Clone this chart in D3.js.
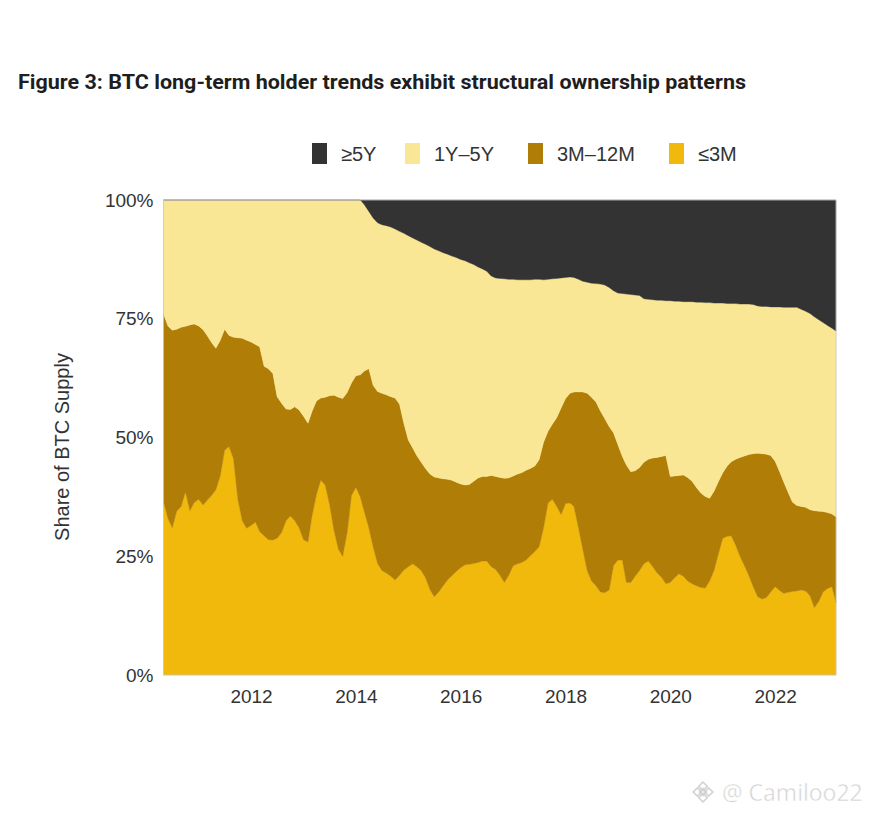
<!DOCTYPE html>
<html>
<head>
<meta charset="utf-8">
<script src="https://cdn.jsdelivr.net/npm/d3@7"></script>
<style>
  body { margin: 0; background: #fff; }
  svg { display: block; }
</style>
</head>
<body>
<svg id="chart" width="875" height="815"></svg>
<script>
// monthly readings, cumulative share of BTC supply (%) held for at most the given age
// first point is May 2010, one value per month up to Mar 2023
const firstMonth = new Date(2010, 4, 1);

const upTo3M = [
  36.5, 33.0, 31.0, 34.5, 35.5, 38.6, 34.6, 36.3, // 2010
  37.0, 35.8, 36.8, 37.8, 39.0, 42.0, 47.3, 48.1, 45.5, 37.0, 32.5, 30.9, // 2011
  31.5, 32.2, 30.2, 29.3, 28.5, 28.4, 28.8, 30.0, 32.5, 33.5, 32.5, 31.0, // 2012
  28.5, 28.0, 33.5, 38.0, 41.0, 40.0, 36.0, 30.5, 26.5, 25.0, 30.0, 37.8, // 2013
  39.5, 37.5, 34.3, 31.0, 27.0, 23.5, 22.0, 21.5, 20.8, 20.0, 21.0, 22.1, // 2014
  22.8, 23.4, 22.8, 22.0, 20.5, 18.0, 16.5, 17.5, 18.8, 20.0, 20.9, 21.8, // 2015
  22.6, 23.2, 23.3, 23.5, 23.7, 24.0, 24.0, 22.8, 22.2, 21.0, 19.5, 21.0, // 2016
  23.0, 23.4, 23.7, 24.2, 25.1, 26.0, 27.0, 31.0, 36.2, 37.0, 35.5, 33.8, // 2017
  36.1, 36.2, 35.5, 31.0, 26.5, 22.0, 19.8, 18.8, 17.5, 17.3, 17.9, 23.0, // 2018
  24.2, 24.2, 19.5, 19.5, 20.8, 22.0, 23.4, 24.0, 22.8, 21.5, 20.6, 19.2, // 2019
  19.5, 20.5, 21.3, 20.8, 19.8, 19.2, 18.8, 18.4, 18.3, 19.8, 22.0, 25.5, // 2020
  28.8, 29.2, 29.3, 27.3, 25.0, 23.0, 21.0, 18.6, 16.5, 16.0, 16.3, 17.5, // 2021
  18.6, 17.8, 17.2, 17.4, 17.6, 17.7, 17.9, 17.7, 16.7, 14.2, 15.5, 17.5, // 2022
  18.2, 18.6, 15.2 // 2023
];

const upTo1Y = [
  76.0, 73.5, 72.6, 72.8, 73.2, 73.4, 73.7, 73.9, // 2010
  73.5, 72.7, 71.5, 70.0, 68.8, 70.5, 72.8, 71.5, 71.1, 71.0, 70.9, 70.5, // 2011
  70.1, 69.6, 69.1, 65.0, 64.5, 63.5, 58.6, 57.2, 56.0, 55.9, 56.5, 55.8, // 2012
  54.5, 53.0, 55.5, 57.7, 58.3, 58.5, 58.8, 58.9, 58.5, 58.2, 59.5, 61.5, // 2013
  63.0, 63.2, 64.0, 64.5, 61.0, 59.7, 59.3, 59.0, 58.6, 58.3, 57.0, 53.0, // 2014
  49.5, 47.8, 46.2, 44.8, 43.5, 42.3, 41.7, 41.5, 41.3, 41.2, 41.0, 40.6, // 2015
  40.2, 40.0, 40.1, 40.8, 41.5, 41.8, 41.8, 42.0, 41.8, 41.6, 41.4, 41.5, // 2016
  41.9, 42.3, 42.6, 43.1, 43.5, 44.0, 45.3, 49.0, 51.3, 52.8, 54.2, 56.2, // 2017
  58.2, 59.3, 59.6, 59.6, 59.6, 59.3, 58.5, 57.5, 55.6, 54.0, 52.3, 51.0, // 2018
  48.5, 46.0, 44.2, 42.8, 43.0, 43.7, 44.8, 45.4, 45.7, 45.8, 46.0, 46.2, // 2019
  41.8, 41.9, 42.0, 42.1, 41.6, 40.8, 39.5, 38.3, 37.6, 37.2, 38.7, 40.7, // 2020
  42.6, 44.0, 44.9, 45.4, 45.8, 46.1, 46.4, 46.6, 46.7, 46.6, 46.5, 46.2, // 2021
  45.0, 42.8, 40.7, 38.5, 36.4, 35.7, 35.5, 35.3, 34.8, 34.6, 34.5, 34.4, // 2022
  34.2, 33.9, 33.3 // 2023
];

const upTo5Y = [
  100, 100, 100, 100, 100, 100, 100, 100, // 2010
  100, 100, 100, 100, 100, 100, 100, 100, 100, 100, 100, 100, // 2011
  100, 100, 100, 100, 100, 100, 100, 100, 100, 100, 100, 100, // 2012
  100, 100, 100, 100, 100, 100, 100, 100, 100, 100, 100, 100, // 2013
  100, 100, 99.0, 97.6, 96.2, 95.2, 94.8, 94.6, 94.3, 93.9, 93.4, 93.0, // 2014
  92.5, 92.0, 91.6, 91.1, 90.7, 90.2, 89.7, 89.3, 88.9, 88.6, 88.2, 87.9, // 2015
  87.5, 87.2, 86.8, 86.4, 85.9, 85.5, 85.0, 84.0, 83.6, 83.5, 83.4, 83.3, // 2016
  83.3, 83.2, 83.2, 83.2, 83.2, 83.3, 83.3, 83.2, 83.3, 83.4, 83.5, 83.6, // 2017
  83.7, 83.8, 83.7, 83.3, 82.9, 82.7, 82.5, 82.4, 82.3, 82.1, 81.6, 80.9, // 2018
  80.4, 80.3, 80.2, 80.1, 80.0, 79.9, 79.2, 79.1, 79.0, 78.9, 78.9, 78.8, // 2019
  78.8, 78.7, 78.7, 78.6, 78.6, 78.6, 78.5, 78.5, 78.4, 78.4, 78.3, 78.3, // 2020
  78.3, 78.2, 78.2, 78.2, 78.1, 78.1, 78.1, 78.0, 77.7, 77.6, 77.6, 77.5, // 2021
  77.5, 77.5, 77.4, 77.4, 77.4, 77.4, 77.0, 76.6, 76.1, 75.4, 74.8, 74.2, // 2022
  73.6, 73.0, 72.4 // 2023
];

const seriesKeys = ["le3m", "m3to12", "y1to5", "ge5y"];
const seriesNames = { ge5y: "≥5Y", y1to5: "1Y–5Y", m3to12: "3M–12M", le3m: "≤3M" };
const legendOrder = ["ge5y", "y1to5", "m3to12", "le3m"];
const colors = { ge5y: "#333333", y1to5: "#fae796", m3to12: "#b07d06", le3m: "#f0b90b" };
const xTickYears = [2012, 2014, 2016, 2018, 2020, 2022];
const yTicks = [0, 0.25, 0.5, 0.75, 1];

// per month shares of each age band (in %)
const rows = upTo3M.map((v, i) => ({
  date: d3.timeMonth.offset(firstMonth, i),
  le3m: v,
  m3to12: upTo1Y[i] - v,
  y1to5: upTo5Y[i] - upTo1Y[i],
  ge5y: 100 - upTo5Y[i]
}));

const margin = { left: 163.5, top: 200 };
const width = 672.5, height = 475;
const tickFont = "'Liberation Sans', Arial, sans-serif";

const svgEl = d3.select("#chart");

// title
svgEl.append("text")
  .attr("x", 18)
  .attr("y", 89)
  .attr("textLength", 728)
  .attr("lengthAdjust", "spacingAndGlyphs")
  .attr("font-family", "Roboto, 'Liberation Sans', sans-serif")
  .attr("font-weight", 700)
  .attr("font-size", 20)
  .attr("fill", "#1e1e1e")
  .text("Figure 3: BTC long-term holder trends exhibit structural ownership patterns");

// legend
const legendX = { ge5y: 312, y1to5: 405, m3to12: 528, le3m: 669 };
const legend = svgEl.append("g");
legendOrder.forEach(k => {
  legend.append("rect")
    .attr("x", legendX[k]).attr("y", 143)
    .attr("width", 15).attr("height", 21)
    .attr("fill", colors[k]);
  legend.append("text")
    .attr("x", legendX[k] + 29).attr("y", 154)
    .attr("dy", "0.35em")
    .attr("font-family", tickFont)
    .attr("font-size", 20)
    .attr("fill", "#333")
    .text(seriesNames[k]);
});

const svg = svgEl.append("g")
  .attr("transform", `translate(${margin.left},${margin.top})`);

const xScale = d3.scaleTime()
  .domain(d3.extent(rows, d => d.date))
  .range([0, width]);
const yScale = d3.scaleLinear()
  .domain([0, 100])
  .range([height, 0]);

const stack = d3.stack().keys(seriesKeys);
const layers = stack(rows);

const area = d3.area()
  .x(d => xScale(d.data.date))
  .y0(d => yScale(d[0]))
  .y1(d => yScale(d[1]));

svg.selectAll(".layer")
  .data(layers)
  .enter()
  .append("path")
  .attr("class", "layer")
  .attr("fill", d => colors[d.key])
  .attr("stroke", d => colors[d.key])
  .attr("stroke-width", 0.4)
  .attr("d", area);

// thin frame round the plot
svg.append("rect")
  .attr("x", 0).attr("y", 0)
  .attr("width", width).attr("height", height)
  .attr("fill", "none")
  .attr("stroke", "#c8c8c8")
  .attr("stroke-width", 0.8);

// x axis
const xAxis = d3.axisBottom(xScale)
  .tickValues(xTickYears.map(y => new Date(y, 0, 1)))
  .tickFormat(d3.timeFormat("%Y"))
  .tickSize(0)
  .tickPadding(15);
const xAxisGroup = svg.append("g")
  .attr("transform", `translate(0,${height})`)
  .call(xAxis);
xAxisGroup.select(".domain").remove();
xAxisGroup.selectAll("text")
  .attr("font-family", tickFont)
  .attr("font-size", 19)
  .attr("fill", "#333");

// y axis
const yAxis = d3.axisLeft(d3.scaleLinear().domain([0, 1]).range([height, 0]))
  .tickValues(yTicks)
  .tickFormat(d3.format(".0%"))
  .tickSize(0)
  .tickPadding(10);
const yAxisGroup = svg.append("g").call(yAxis);
yAxisGroup.select(".domain").remove();
yAxisGroup.selectAll("text")
  .attr("font-family", tickFont)
  .attr("font-size", 19)
  .attr("fill", "#333");

svgEl.append("text")
  .attr("transform", "translate(62,447) rotate(-90)")
  .attr("text-anchor", "middle")
  .attr("dy", "0.35em")
  .attr("font-family", tickFont)
  .attr("font-size", 20)
  .attr("fill", "#333")
  .text("Share of BTC Supply");

// watermark
const wm = svgEl.append("g").attr("opacity", 0.9);
const icon = wm.append("g").attr("transform", "translate(703,792) rotate(45)")
  .attr("fill", "none").attr("stroke", "#cfcfcf").attr("stroke-width", 1.6);
[[-4, -4], [4, -4], [-4, 4], [4, 4]].forEach(([dx, dy]) => {
  icon.append("rect").attr("x", dx - 3).attr("y", dy - 3).attr("width", 6).attr("height", 6);
});
icon.append("rect").attr("x", -2.5).attr("y", -2.5).attr("width", 5).attr("height", 5);
wm.append("text")
  .attr("x", 722).attr("y", 801)
  .attr("font-family", "'Open Sans', sans-serif")
  .attr("font-size", 23)
  .attr("fill", "#cdcdcd")
  .attr("stroke", "#ffffff")
  .attr("stroke-width", 0.5)
  .text("@ Camiloo22");
</script>
</body>
</html>
